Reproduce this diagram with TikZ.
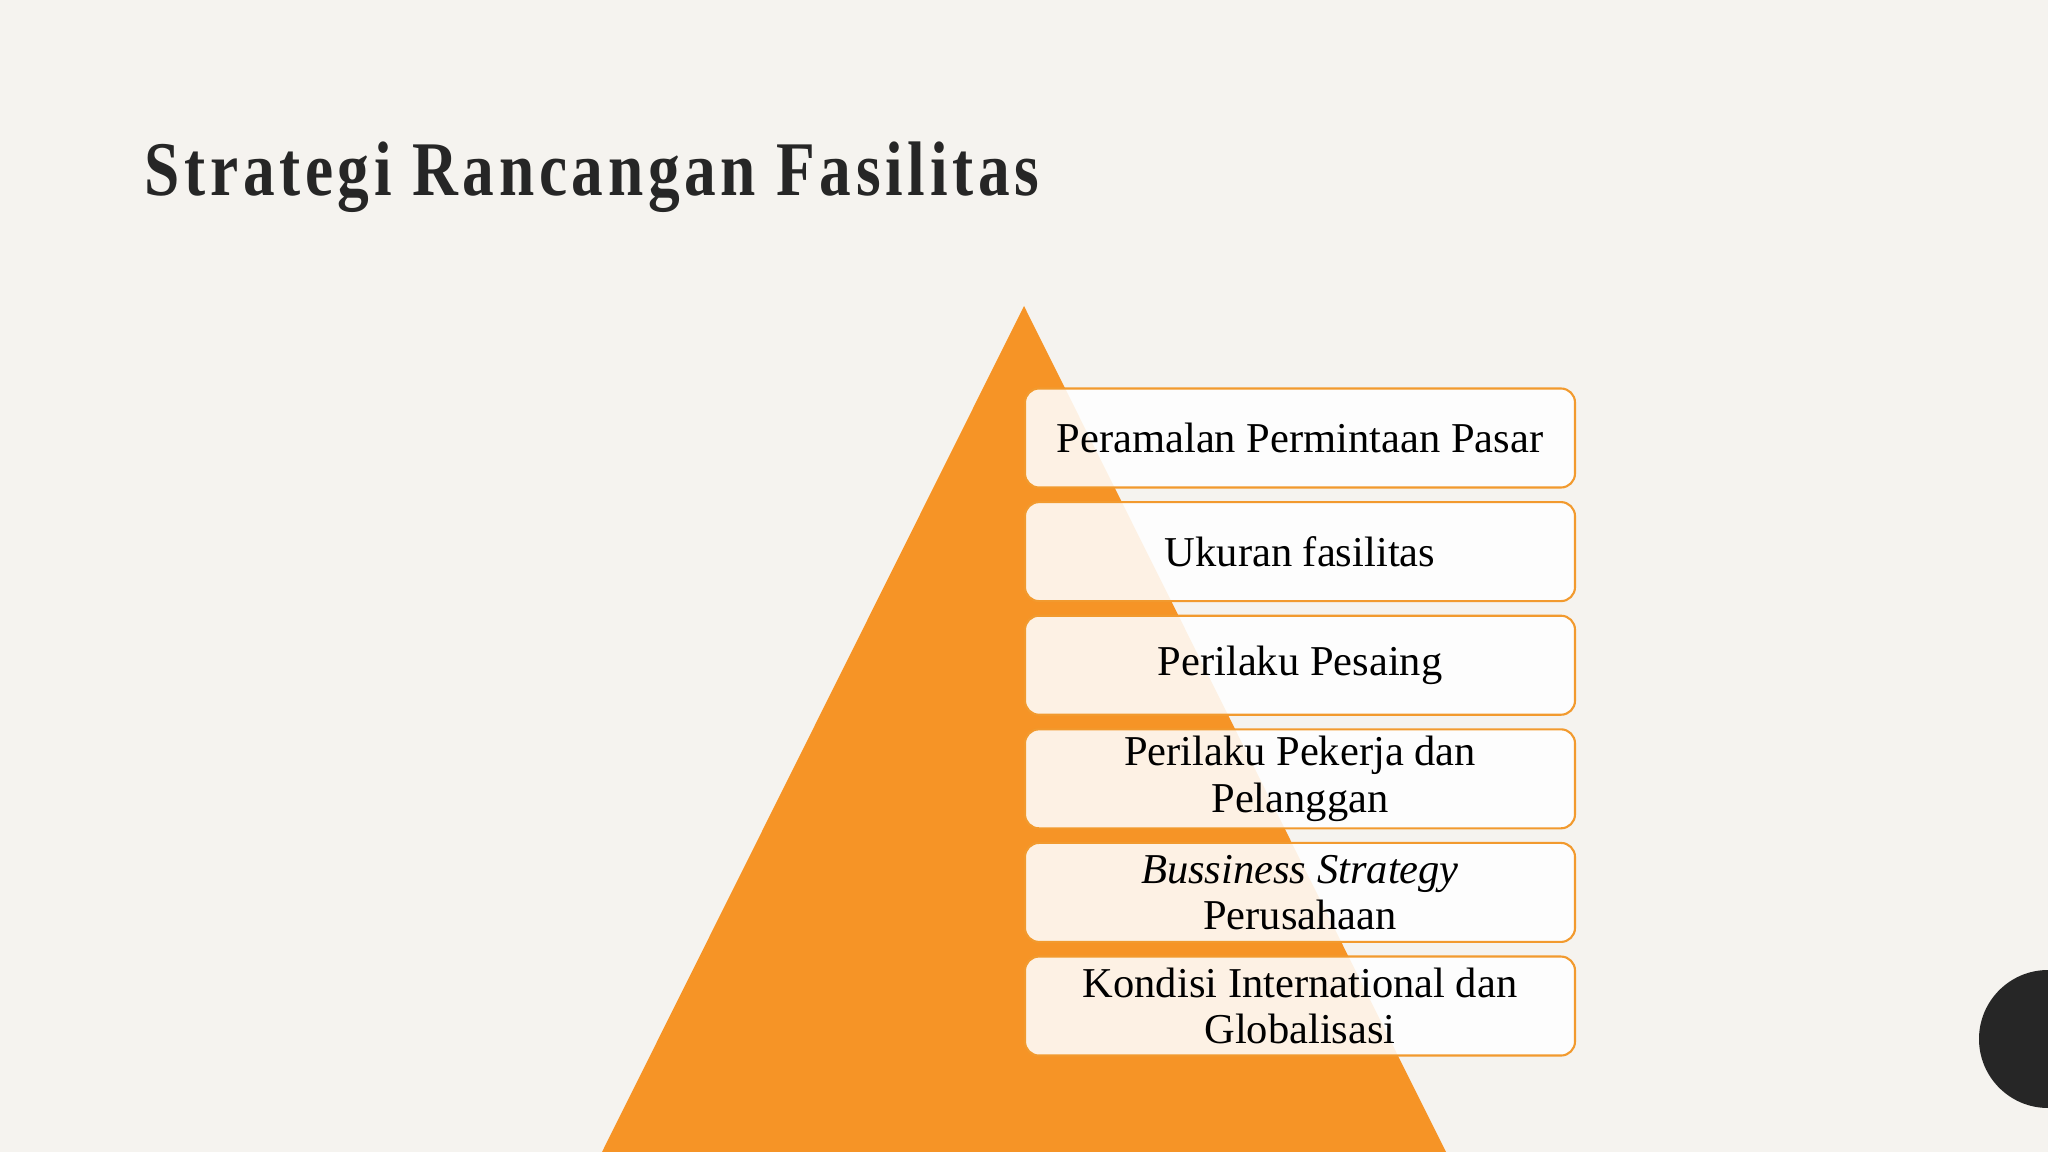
\documentclass[tikz,border=0pt]{standalone}
\usepackage{fontspec}
\setmainfont{Liberation Serif}
\newfontfamily\titlefont[FakeStretch=0.82,LetterSpace=6]{Liberation Serif}
\definecolor{slidebg}{RGB}{245,243,239}
\definecolor{pyrorange}{RGB}{246,148,38}
\definecolor{boxline}{RGB}{242,154,46}
\definecolor{darkdot}{RGB}{38,38,38}
\usetikzlibrary{positioning}

\begin{document}
\begin{tikzpicture}[
  layerbox/.style={draw=boxline, line width=0.6pt, fill=white, fill opacity=0.88, text opacity=1,
    rounded corners=0.14cm, minimum width=5.5cm, minimum height=0.99cm, inner sep=0pt,
    align=center, font=\fontsize{12.1}{13.2}\selectfont},
  node distance=0.125cm
]
  % Background
  \fill[slidebg] (0,0) rectangle (20.48,-11.52);
  \useasboundingbox (0,0) rectangle (20.48,-11.52);

  % Pyramid
  \fill[pyrorange] (10.24,-3.06) -- (14.46,-11.52) -- (6.02,-11.52) -- cycle;

  % Layers
  \node[layerbox] (pasar) at (13.00,-4.38) {Peramalan Permintaan Pasar};
  \node[layerbox, below=of pasar] (ukuran) {Ukuran fasilitas};
  \node[layerbox, below=of ukuran] (pesaing) {Perilaku Pesaing};
  \node[layerbox, below=of pesaing] (pekerja) {Perilaku Pekerja dan\\Pelanggan};
  \node[layerbox, below=of pekerja] (bisnis) {\textit{Bussiness Strategy}\\Perusahaan};
  \node[layerbox, below=of bisnis] (global) {Kondisi International dan\\Globalisasi};

  % Corner dot
  \fill[darkdot] (20.48,-10.39) circle (0.69);

  % Title
  \node[anchor=base west, inner sep=0pt, text=darkdot, font=\titlefont\bfseries\fontsize{22}{24}\selectfont] (title) at (1.44,-1.96) {Strategi Rancangan Fasilitas};
\end{tikzpicture}
\end{document}
